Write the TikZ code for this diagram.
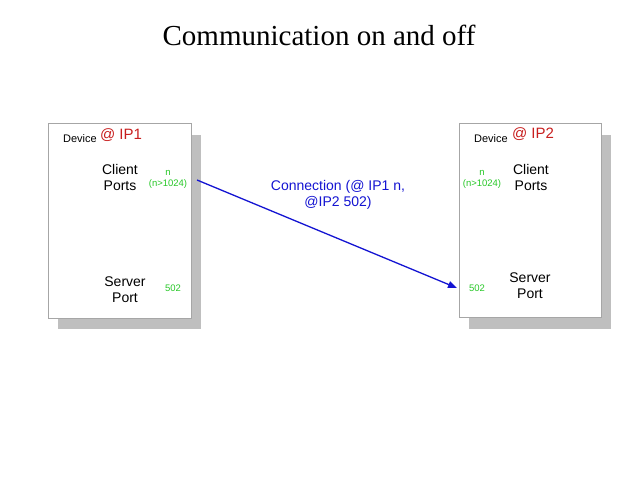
\documentclass[tikz,border=0pt]{standalone}
\usepackage{fontspec}
\setmainfont{Liberation Sans}
\newfontfamily\serif{Liberation Serif}
\usetikzlibrary{arrows.meta}
\definecolor{gr}{RGB}{40,200,40}
\definecolor{rd}{RGB}{200,30,30}
\definecolor{bl}{RGB}{20,20,210}
\tikzset{
  dev/.style={draw=gray!70,fill=white,line width=0.8pt},
  shad/.style={fill=gray!50,draw=none},
  lbl/.style={inner sep=0pt,font=\fontsize{14}{16}\selectfont,align=center},
  small/.style={inner sep=0pt,font=\fontsize{9.5}{11}\selectfont,text=gr,align=center},
  devl/.style={inner sep=0pt,font=\fontsize{11}{12}\selectfont},
  ip/.style={inner sep=0pt,font=\fontsize{15}{16}\selectfont,text=rd}
}
\begin{document}
\begin{tikzpicture}[x=1pt,y=-1pt]
\useasboundingbox[fill=white] (0,0) rectangle (638,478);
\node[font=\serif\fontsize{29}{32}\selectfont,inner sep=0pt] (title) at (319,35) {Communication on and off};
% left device
\fill[shad] (58,135) rectangle (201,329);
\draw[dev] (48,123) rectangle (191,318);
\node[devl] (d1) at (80,139) {Device};
\node[ip] (ip1) at (121,135) {@ IP1};
\node[lbl] (c1) at (120,177) {Client\\Ports};
\node[small] (n1) at (168,179) {n\\(n>1024)};
\node[lbl] (s1) at (125,290) {Server\\Port};
\node[small] (p1) at (173,288) {502};
% right device
\fill[shad] (469,135) rectangle (611,329);
\draw[dev] (459,123) rectangle (601,317);
\node[devl] (d2) at (491,139) {Device};
\node[ip] (ip2) at (533,134) {@ IP2};
\node[lbl] (c2) at (531,177) {Client\\Ports};
\node[small] (n2) at (482,179) {n\\(n>1024)};
\node[lbl] (s2) at (530,286) {Server\\Port};
\node[small] (p2) at (477,288) {502};
% connection
\coordinate (a) at (197,180);
\coordinate (b) at (457,288);
\draw[bl,line width=1.3pt,-{Triangle[length=9pt,width=7pt]}] (a) -- (b);
\node[lbl,text=bl] (conn) at (338,195) {Connection (@ IP1 n,\\@IP2 502)};
\end{tikzpicture}
\end{document}
